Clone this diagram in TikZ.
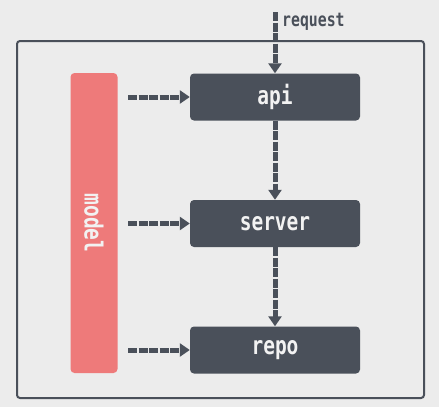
\documentclass[tikz,border=0pt]{standalone}
\usepackage{fontspec}
\newfontfamily\codefont{DejaVu Sans Mono}[FakeStretch=0.78]
\usetikzlibrary{arrows.meta}

\definecolor{bgcol}{HTML}{ECECEC}
\definecolor{slate}{HTML}{4A505A}
\definecolor{salmon}{HTML}{EE7A7A}
\definecolor{chalk}{HTML}{F2F2F2}

\begin{document}
\begin{tikzpicture}[
    x=1pt, y=-1pt,
    block/.style={fill=slate, rounded corners=4pt, minimum width=170pt, minimum height=47pt,
      text=chalk, font=\codefont\bfseries\fontsize{25}{25}\selectfont},
    modelbar/.style={fill=salmon, rounded corners=4pt, minimum width=47pt, minimum height=300pt},
    flow/.style={draw=slate, line width=5pt, dash pattern=on 9pt off 1.5pt,
      -{Triangle[width=13pt,length=10pt]}},
  ]
  \fill[bgcol] (0,0) rectangle (439,407);
  \useasboundingbox (0,0) rectangle (439,407);
  \draw[slate, line width=2pt, rounded corners=3pt] (17,41) rectangle (424,398);

  \node[block] (api) at (275,97) {api};
  \node[block] (server) at (275,223.5) {server};
  \node[block] (repo) at (275,350) {repo};
  \node[modelbar] (model) at (94,223) {};
  \node[rotate=-90, text=chalk, font=\codefont\bfseries\fontsize{25}{25}\selectfont]
    (modellabel) at (model.center) {model};

  \coordinate (req) at (275,12);
  \node[anchor=west, text=slate, inner sep=0pt, font=\codefont\bfseries\fontsize{19}{19}\selectfont]
    (reqlabel) at (282,22) {request};
  \coordinate (m1) at (128,97);
  \coordinate (m2) at (128,223.5);
  \coordinate (m3) at (128,350);

  \draw[flow] (req) -- (api);
  \draw[flow] (api) -- (server);
  \draw[flow] (server) -- (repo);
  \draw[flow] (m1) -- (api);
  \draw[flow] (m2) -- (server);
  \draw[flow] (m3) -- (repo);
\end{tikzpicture}
\end{document}
